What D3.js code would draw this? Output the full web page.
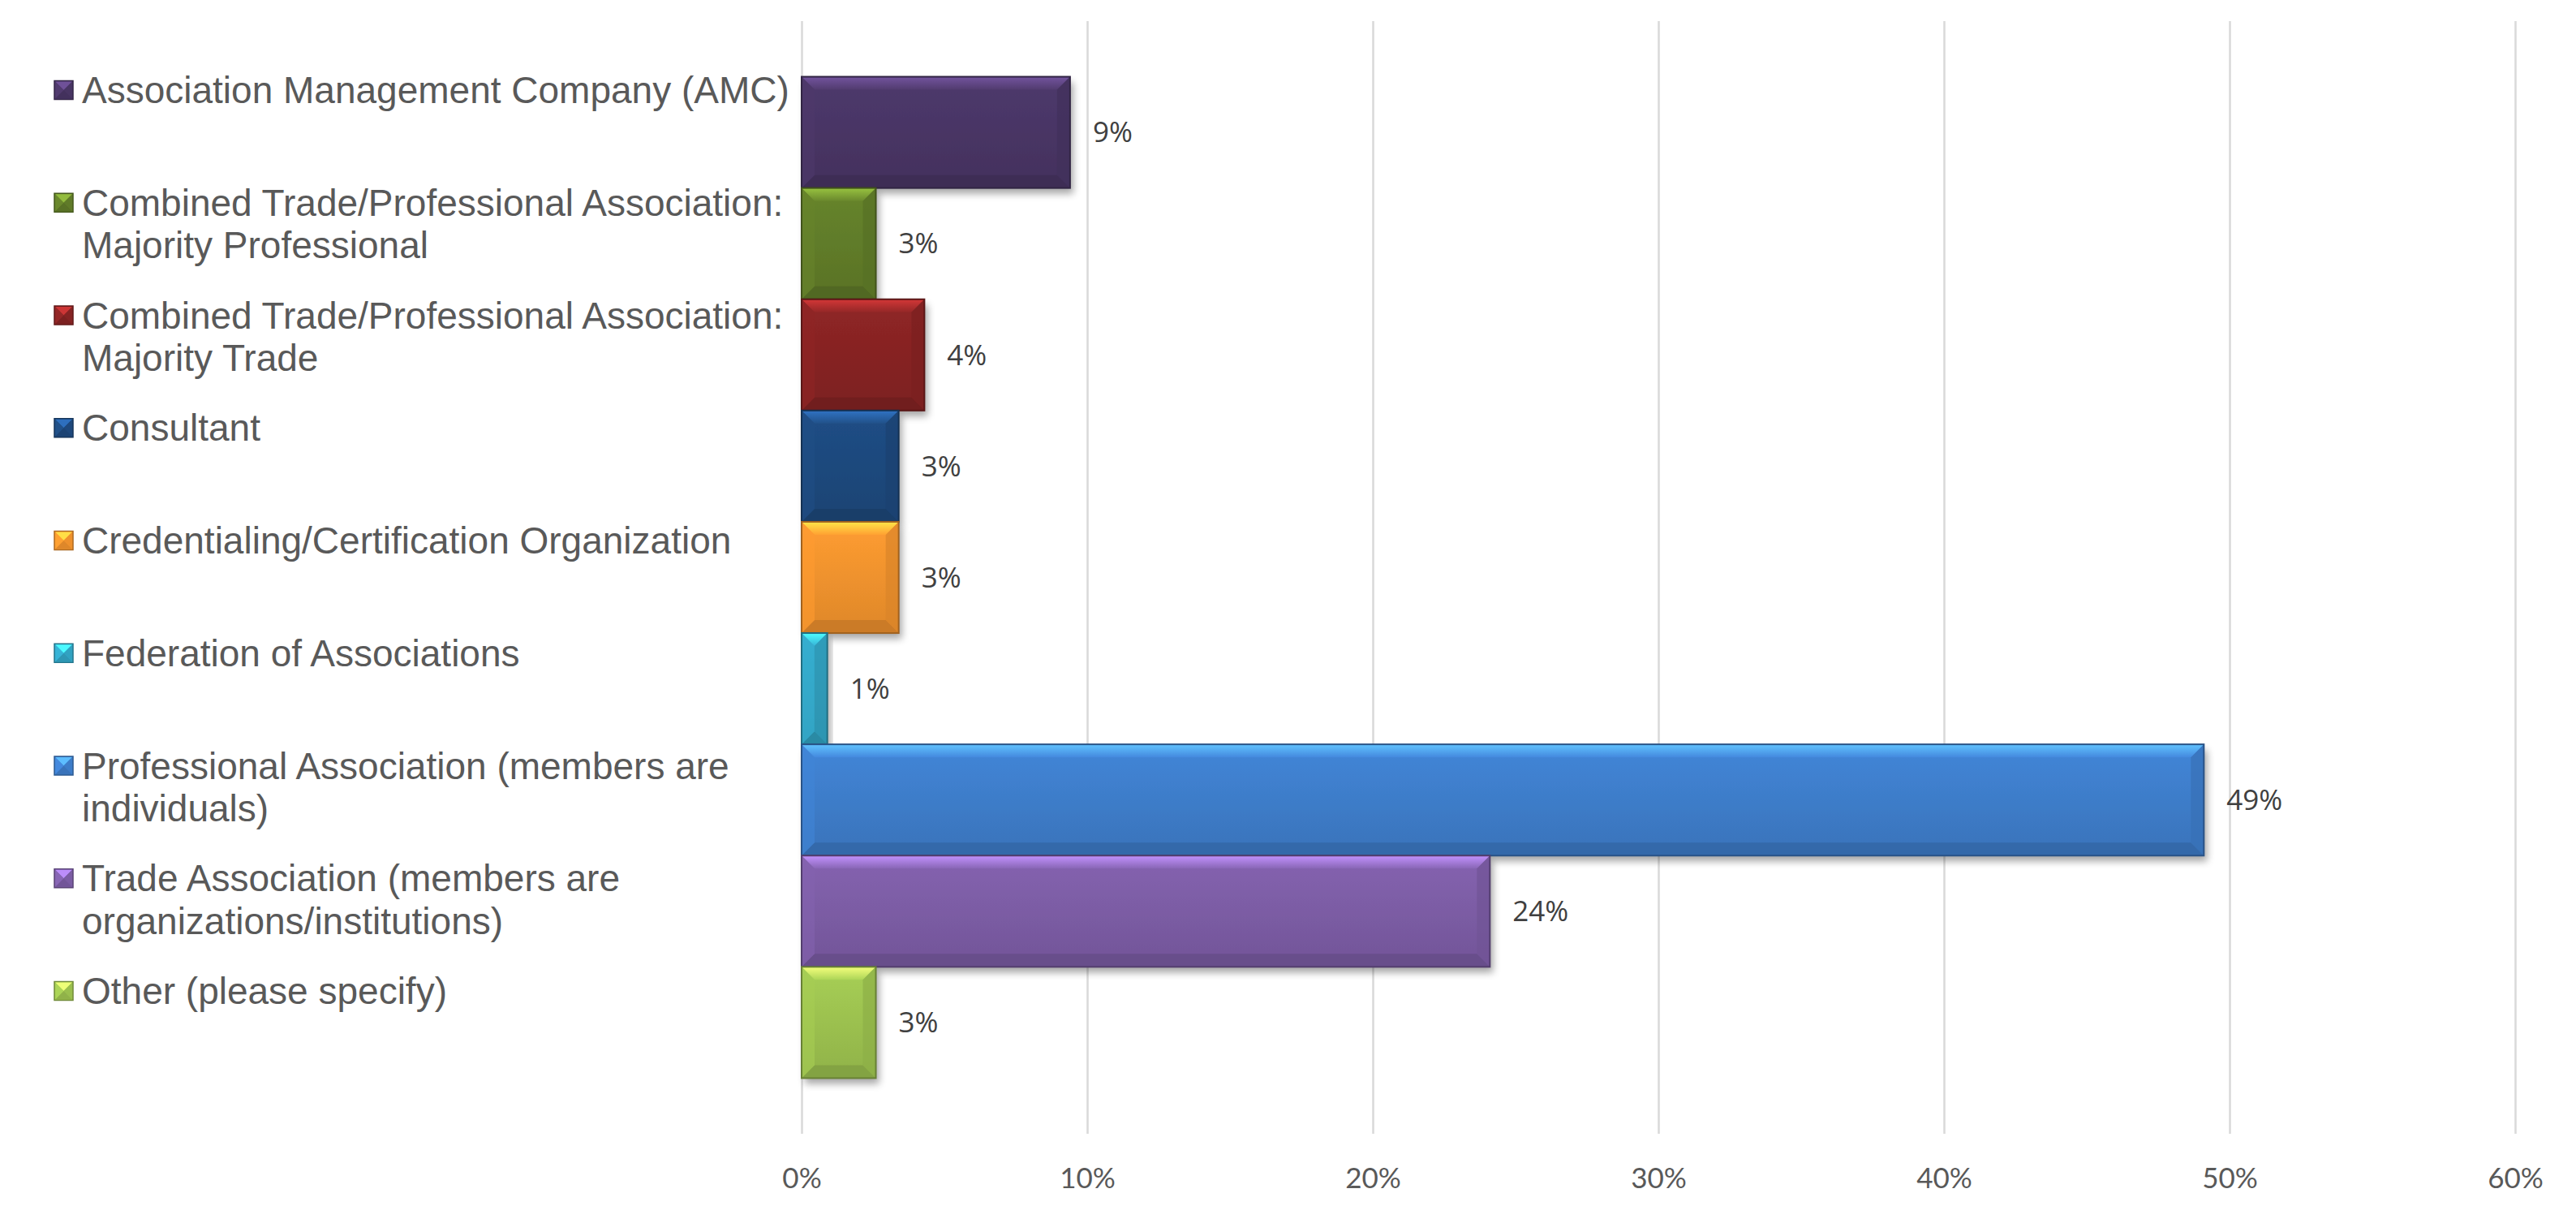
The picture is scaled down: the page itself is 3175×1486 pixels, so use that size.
<!DOCTYPE html>
<html lang="en">

<head>
    <meta charset="UTF-8">
    <title>Organization Type</title>
    <script src="https://d3js.org/d3.v7.min.js"></script>
    <style>
        body {
            margin: 0;
            background: #fff;
        }

        .legend text {
            font-family: "Liberation Sans", Arial, sans-serif;
            font-size: 46px;
            fill: #595959;
        }

        .axis text {
            font-family: Lato, "Liberation Sans", sans-serif;
            font-size: 35px;
            fill: #595959;
        }

        .label {
            font-family: "Open Sans", "Noto Sans", sans-serif;
            font-size: 35px;
            fill: #404040;
        }
    </style>
</head>

<body>
    <svg id="chart" width="3175" height="1486"></svg>
</body>
<script>
    // categories, top to bottom
    const categories = [
        "Association Management Company (AMC)",
        "Combined Trade/Professional Association: Majority Professional",
        "Combined Trade/Professional Association: Majority Trade",
        "Consultant",
        "Credentialing/Certification Organization",
        "Federation of Associations",
        "Professional Association (members are individuals)",
        "Trade Association (members are organizations/institutions)",
        "Other (please specify)"
    ];

    // share of respondents
    const values = [0.094, 0.026, 0.043, 0.034, 0.034, 0.009, 0.491, 0.241, 0.026];

    const xTicks = [0, 0.1, 0.2, 0.3, 0.4, 0.5, 0.6];

    const palette = ["#4b3767", "#637f2a", "#8a2424", "#1f4b80", "#f7962f",
        "#33a8c8", "#3f80cf", "#7f5fa9", "#a0c651"];

    const svg = d3.select("#chart");
    const defs = svg.append("defs");

    const plotTop = 26, plotBottom = 1397;

    const x = d3.scaleLinear().domain([0, 0.6]).range([988, 3100]);
    const y = d3.scaleBand().domain(categories).range([plotTop, plotBottom])
        .paddingInner(0).paddingOuter(0.5);

    const pct = d3.format(".0%");

    // drop shadow for the bars
    const shadow = defs.append("filter").attr("id", "shadow")
        .attr("x", "-10%").attr("y", "-20%").attr("width", "130%").attr("height", "150%");
    shadow.append("feGaussianBlur").attr("in", "SourceAlpha").attr("stdDeviation", 5);
    shadow.append("feOffset").attr("dx", 4).attr("dy", 7).attr("result", "off");
    shadow.append("feComponentTransfer").append("feFuncA").attr("type", "linear").attr("slope", 0.35);
    const merge = shadow.append("feMerge");
    merge.append("feMergeNode");
    merge.append("feMergeNode").attr("in", "SourceGraphic");

    // gradients per colour
    palette.forEach((c, i) => {
        const body = defs.append("linearGradient").attr("id", "body" + i)
            .attr("x1", 0).attr("y1", 0).attr("x2", 0).attr("y2", 1);
        body.append("stop").attr("offset", 0).attr("stop-color", d3.color(c).brighter(0.12));
        body.append("stop").attr("offset", 1).attr("stop-color", d3.color(c).darker(0.3));

        const top = defs.append("linearGradient").attr("id", "top" + i)
            .attr("x1", 0).attr("y1", 0).attr("x2", 0).attr("y2", 1);
        top.append("stop").attr("offset", 0).attr("stop-color", d3.color(c).brighter(1.2));
        top.append("stop").attr("offset", 1).attr("stop-color", d3.color(c).brighter(0.2));
    });

    // gridlines
    svg.append("g")
        .attr("class", "grid")
        .attr("transform", `translate(0,${plotBottom})`)
        .call(d3.axisBottom(x).tickValues(xTicks).tickSize(-(plotBottom - plotTop)).tickFormat(""))
        .call(g => g.select(".domain").remove())
        .call(g => g.selectAll("line").attr("stroke", "#d9d9d9").attr("stroke-width", 2.5));

    // axis labels
    svg.append("g")
        .attr("class", "axis")
        .attr("transform", `translate(0,${plotBottom})`)
        .call(d3.axisBottom(x).tickValues(xTicks).tickSize(0).tickPadding(42).tickFormat(pct))
        .call(g => g.select(".domain").remove())
        .call(g => g.selectAll("text").attr("font-size", null).attr("font-family", null));

    const data = categories.map((name, i) => ({ name, value: values[i], i }));

    // bars with bevel
    const bars = svg.append("g").selectAll("g.bar")
        .data(data)
        .join("g")
        .attr("class", "bar");

    bars.each(function (d) {
        const g = d3.select(this);
        const x0 = x(0), x1 = x(d.value), y0 = y(d.name), y1 = y0 + y.bandwidth();
        const w = x1 - x0, h = y1 - y0;
        const b = Math.min(16, w / 2, h / 2);
        const c = palette[d.i];

        g.append("rect")
            .attr("x", x0).attr("y", y0).attr("width", w).attr("height", h)
            .attr("fill", `url(#body${d.i})`)
            .attr("filter", "url(#shadow)");

        // top bevel
        g.append("polygon")
            .attr("points", [[x0, y0], [x1, y0], [x1 - b, y0 + b], [x0 + b, y0 + b]].join(" "))
            .attr("fill", `url(#top${d.i})`);
        // bottom bevel
        g.append("polygon")
            .attr("points", [[x0, y1], [x1, y1], [x1 - b, y1 - b], [x0 + b, y1 - b]].join(" "))
            .attr("fill", d3.color(c).darker(0.55));
        // left bevel
        g.append("polygon")
            .attr("points", [[x0, y0], [x0 + b, y0 + b], [x0 + b, y1 - b], [x0, y1]].join(" "))
            .attr("fill", d3.color(c).brighter(0.1)).attr("opacity", 0.6);
        // right bevel
        g.append("polygon")
            .attr("points", [[x1, y0], [x1 - b, y0 + b], [x1 - b, y1 - b], [x1, y1]].join(" "))
            .attr("fill", d3.color(c).darker(0.35)).attr("opacity", 0.7);

        g.append("rect")
            .attr("x", x0).attr("y", y0).attr("width", w).attr("height", h)
            .attr("fill", "none")
            .attr("stroke", d3.color(c).darker(1.2))
            .attr("stroke-width", 2);
    });

    // data labels
    svg.append("g").selectAll("text")
        .data(data)
        .join("text")
        .attr("class", "label")
        .attr("x", d => x(d.value) + 28)
        .attr("y", d => y(d.name) + y.bandwidth() / 2)
        .attr("dy", "0.35em")
        .text(d => pct(d.value));

    // legend on the left
    const legendTop = 111, legendStep = 138.75, markerSize = 23;

    const legend = svg.append("g").attr("class", "legend")
        .selectAll("g")
        .data(data)
        .join("g")
        .attr("transform", d => `translate(67,${legendTop + d.i * legendStep})`);

    legend.each(function (d) {
        const g = d3.select(this);
        const c = palette[d.i];
        const s = markerSize, m = s / 2;
        g.append("rect").attr("x", 0).attr("y", -m).attr("width", s).attr("height", s)
            .attr("fill", c).attr("stroke", d3.color(c).darker(1)).attr("stroke-width", 1.5);
        g.append("polygon").attr("points", [[1, -m + 1], [s - 1, -m + 1], [m, 0]].join(" "))
            .attr("fill", d3.color(c).brighter(1.1));
        g.append("polygon").attr("points", [[1, m - 1], [s - 1, m - 1], [m, 0]].join(" "))
            .attr("fill", d3.color(c).darker(0.3));
        g.append("polygon").attr("points", [[1, -m + 1], [1, m - 1], [m, 0]].join(" "))
            .attr("fill", d3.color(c).brighter(0.2));
        g.append("polygon").attr("points", [[s - 1, -m + 1], [s - 1, m - 1], [m, 0]].join(" "))
            .attr("fill", d3.color(c).darker(0.1));

        // wrap the label
        const text = g.append("text").attr("x", 34).attr("y", 16);
        const words = d.name.split(" ");
        let line = [];
        let tspan = text.append("tspan").attr("x", 34).attr("dy", 0);
        words.forEach(word => {
            line.push(word);
            tspan.text(line.join(" "));
            if (tspan.node().getComputedTextLength() > 885 && line.length > 1) {
                line.pop();
                tspan.text(line.join(" "));
                line = [word];
                tspan = text.append("tspan").attr("x", 34).attr("dy", 52.6).text(word);
            }
        });
    });
</script>

</html>
